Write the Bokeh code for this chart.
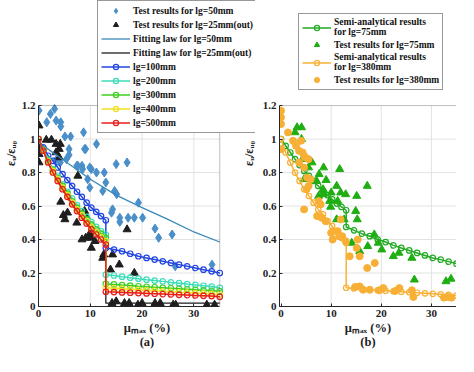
from bokeh.plotting import figure
from bokeh.models import (Legend, LegendItem, FixedTicker, CustomJSTickFormatter,
                          Range1d, BoxAnnotation)
from bokeh.layouts import row
from bokeh.embed import file_html
from bokeh.resources import INLINE

FONT = "Liberation Serif"

# ---------------- data: panel (a) ----------------
diamond_x = [0.1, 1.6, 2.3, 3.1, 3.4, 4.3, 4.3, 5.1, 6.2, 8.7, 11.2, 5.9, 5.9, 9.1, 3.3, 4.2,
             5.4, 7.4, 8.5, 10.2, 9.5, 11.2, 12.7, 9.9, 12.4, 13.0, 15.0, 17.1, 14.7, 15.1,
             14.3, 14.1, 15.7, 15.7, 17.3, 18.5, 19.3, 20.1, 22.5, 23.2, 25.8, 26.4, 33.5,
             8.9, 7.6, 8.4, 9.9]
diamond_y = [1.17, 1.10, 1.15, 1.18, 1.11, 1.10, 1.075, 1.015, 1.015, 1.04, 0.97, 0.94, 0.905,
             0.94, 0.87, 0.86, 0.88, 0.84, 0.82, 0.82, 0.76, 0.80, 0.80, 0.71, 0.69, 0.74, 0.85,
             0.86, 0.69, 0.67, 0.58, 0.56, 0.53, 0.505, 0.53, 0.53, 0.62, 0.53, 0.465, 0.41,
             0.43, 0.24, 0.25, 0.94, 0.84, 0.84, 0.83]

tri_x = [0.1, 0.1, 0.1, 0.1, 1.5, 2.5, 3.4, 4.2, 4.0, 4.0, 3.4, 4.3, 4.8, 5.1, 5.6, 7.6, 7.4,
         8.9, 9.2, 9.9, 10.1, 9.1, 10.2, 12.6, 13.9, 17.1, 18.5, 8.4, 9.8, 10.9, 12.4, 15.6,
         14.3, 14.2, 15.0, 16.6, 17.5, 19.2, 20.0, 22.5, 23.5, 26.0, 26.5, 32.5, 34.0]
tri_y = [1.08, 0.95, 0.91, 0.86, 0.995, 0.995, 0.97, 0.97, 0.94, 0.89, 0.92, 0.625, 0.545,
         0.52, 0.56, 0.78, 0.50, 0.57, 0.54, 0.435, 0.41, 0.41, 0.35, 0.31, 0.22, 0.46, 0.20,
         0.40, 0.42, 0.39, 0.29, 0.25, 0.31, 0.02, 0.03, 0.02, 0.02, 0.01, 0.02, 0.02, 0.02,
         0.01, 0.01, 0.01, 0.01]

fit50_x = [0, 5, 10, 15, 20, 25, 30, 35]
fit50_y = [0.98, 0.87, 0.76, 0.665, 0.59, 0.52, 0.445, 0.385]

fit25_x = [0, 1.86, 3.71, 5.57, 7.43, 9.29, 11.14, 13.0, 13.0, 35.0]
fit25_y = [1.0, 0.855, 0.745, 0.65, 0.565, 0.49, 0.425, 0.365, 0.02, 0.02]

model_x = [0, 0.93, 1.86, 2.79, 3.71, 4.64, 5.57, 6.5, 7.43, 8.36, 9.29, 10.21, 11.14, 12.07, 13.0,
           13.0, 14.57, 16.14, 17.71, 19.29, 20.86, 22.43, 24.0, 25.57, 27.14, 28.71, 30.29,
           31.86, 33.43, 35.0]
lg100 = [1.0, 0.95, 0.90, 0.87, 0.83, 0.79, 0.755, 0.72, 0.685, 0.655, 0.62, 0.59, 0.565, 0.54, 0.515,
         0.35, 0.34, 0.33, 0.315, 0.30, 0.29, 0.28, 0.27, 0.26, 0.25, 0.24, 0.23, 0.22, 0.21, 0.20]
lg200 = [1.0, 0.935, 0.875, 0.82, 0.775, 0.73, 0.685, 0.645, 0.605, 0.57, 0.535, 0.505, 0.475, 0.45, 0.43,
         0.19, 0.185, 0.178, 0.172, 0.166, 0.16, 0.155, 0.15, 0.144, 0.139, 0.134, 0.129, 0.124, 0.119, 0.112]
lg300 = [1.0, 0.935, 0.87, 0.815, 0.765, 0.72, 0.675, 0.63, 0.59, 0.555, 0.52, 0.49, 0.46, 0.435, 0.41,
         0.135, 0.132, 0.128, 0.125, 0.121, 0.118, 0.115, 0.112, 0.109, 0.106, 0.103, 0.100, 0.097, 0.094, 0.091]
lg400 = [1.0, 0.93, 0.865, 0.81, 0.76, 0.71, 0.665, 0.62, 0.58, 0.545, 0.51, 0.475, 0.445, 0.415, 0.39,
         0.112, 0.109, 0.106, 0.103, 0.100, 0.097, 0.094, 0.091, 0.088, 0.085, 0.083, 0.080, 0.078, 0.075, 0.073]
lg500 = [1.0, 0.93, 0.86, 0.80, 0.75, 0.70, 0.655, 0.61, 0.57, 0.53, 0.495, 0.46, 0.43, 0.40, 0.37,
         0.088, 0.086, 0.084, 0.082, 0.080, 0.078, 0.076, 0.074, 0.072, 0.070, 0.068, 0.066, 0.064, 0.062, 0.058]

# ---------------- data: panel (b) ----------------
semi_x = model_x
semi75 = [1.0, 0.96, 0.92, 0.88, 0.845, 0.81, 0.78, 0.75, 0.72, 0.69, 0.665, 0.64, 0.615, 0.595, 0.575,
          0.475, 0.455, 0.435, 0.42, 0.40, 0.385, 0.365, 0.35, 0.335, 0.32, 0.305, 0.29, 0.28, 0.268, 0.256]
semi380 = [1.0, 0.92, 0.86, 0.80, 0.75, 0.70, 0.66, 0.62, 0.58, 0.55, 0.51, 0.48, 0.45, 0.41, 0.38,
           0.112, 0.108, 0.104, 0.10, 0.097, 0.094, 0.091, 0.088, 0.085, 0.082, 0.079, 0.076, 0.073, 0.069, 0.065]

g_x = [2.8, 3.2, 4.1, 4.1, 4.3, 4.6, 5.5, 6.2, 7.1, 7.6, 8.5, 8.4, 8.4, 7.5, 10.0, 9.7, 9.9, 11.1,
       11.7, 11.9, 12.9, 11.3, 11.1, 12.6, 15.1, 14.9, 15.2, 14.1, 15.7, 17.2, 17.3, 18.6, 19.4,
       20.1, 22.4, 23.5, 26.1, 26.6, 32.9, 33.9, 9.0]
g_y = [1.04, 1.07, 1.07, 1.0, 0.88, 0.76, 0.83, 0.86, 0.75, 0.79, 0.83, 0.70, 0.67, 0.66, 0.68,
       0.63, 0.595, 0.72, 0.82, 0.68, 0.67, 0.63, 0.52, 0.52, 0.66, 0.57, 0.52, 0.38, 0.33, 0.72,
       0.36, 0.43, 0.38, 0.34, 0.30, 0.32, 0.29, 0.16, 0.15, 0.165, 0.755]

o_x = [0.0, 0.0, 0.0, 0.0, 1.4, 2.4, 4.0, 3.0, 3.6, 4.6, 5.5, 3.6, 4.6, 4.3, 4.8, 5.2, 5.9, 5.5,
       5.1, 4.6, 7.5, 7.2, 8.1, 7.9, 8.9, 10.0, 10.4, 10.3, 11.3, 11.6, 11.9, 12.2, 12.9, 13.7,
       15.1, 15.3, 15.7, 17.2, 18.7, 14.8, 15.7, 16.4, 17.7, 19.6, 20.4, 22.8, 23.6, 26.1, 26.4,
       32.5, 33.3, 34.0]
o_y = [1.17, 1.13, 1.09, 0.94, 1.04, 0.99, 0.99, 0.96, 0.93, 0.90, 0.88, 0.86, 0.83, 0.92, 0.89,
       0.77, 0.76, 0.72, 0.70, 0.58, 0.63, 0.54, 0.53, 0.61, 0.51, 0.44, 0.45, 0.40, 0.45, 0.42,
       0.52, 0.42, 0.39, 0.30, 0.35, 0.40, 0.30, 0.23, 0.26, 0.117, 0.12, 0.10, 0.10, 0.097,
       0.11, 0.093, 0.11, 0.097, 0.057, 0.053, 0.057, 0.053]

x_ticks = [0, 10, 20, 30]
y_ticks = [0, 0.2, 0.4, 0.6, 0.8, 1.0, 1.2]
X_MAX = 35
GRID = "#e3e3e3"
AXC = "#262626"


def style(p, panel_tag, x_lo):
    fmt = CustomJSTickFormatter(code="return String(Math.round(tick*10)/10)")
    p.xaxis.ticker = FixedTicker(ticks=x_ticks)
    p.yaxis.ticker = FixedTicker(ticks=y_ticks)
    p.xaxis.formatter = fmt
    p.yaxis.formatter = fmt
    p.xaxis.bounds = (x_lo, X_MAX)
    p.yaxis.bounds = (y_ticks[0], y_ticks[-1])
    p.xaxis.axis_label = "μₘₐₓ (%)\n" + panel_tag
    p.yaxis.axis_label = "εᵤ/εᵤ₀"
    for ax in p.axis:
        ax.major_tick_in = 3
        ax.major_tick_out = 0
        ax.minor_tick_line_color = None
        ax.axis_line_color = AXC
        ax.major_tick_line_color = AXC
        ax.major_label_text_font = FONT
        ax.major_label_text_font_style = "bold"
        ax.major_label_text_font_size = "11px"
        ax.major_label_text_color = "#222222"
        ax.major_label_standoff = 3
        ax.axis_label_text_font = FONT
        ax.axis_label_text_font_style = "bold"
        ax.axis_label_text_font_size = "12px"
        ax.axis_label_text_color = "#222222"
        ax.axis_label_standoff = 1
    p.xaxis.major_label_standoff = 3
    p.xaxis.axis_label_text_font_size = "12.5px"
    p.xaxis.axis_label_text_line_height = 1.05
    p.xgrid.visible = False
    p.ygrid.visible = False
    p.outline_line_color = None
    gx = x_ticks[1:]
    gy = y_ticks[1:-1]
    p.segment(x0=gx, y0=y_ticks[0], x1=gx, y1=y_ticks[-1], line_color=GRID,
              line_width=1, level="underlay")
    p.segment(x0=x_lo, y0=gy, x1=X_MAX, y1=gy, line_color=GRID, line_width=1,
              level="underlay")
    p.add_layout(BoxAnnotation(left=x_lo, right=X_MAX, bottom=y_ticks[0], top=y_ticks[-1],
                               fill_color=None, line_color=AXC, line_width=1))


# ---------------- panel (a) ----------------
pa = figure(width=255, height=354, x_range=Range1d(0, 41.9), y_range=Range1d(0, 1.827),
            output_backend="svg", toolbar_location=None,
            min_border_left=31, min_border_right=0, min_border_top=0, min_border_bottom=48)
style(pa, "(a)", 0)

r_dia = pa.scatter(diamond_x, diamond_y, marker="diamond", size=9, color="#4a8fc9")
r_tri = pa.scatter(tri_x, tri_y, marker="triangle", size=8, color="#1e1e1e")
r_f50 = pa.line(fit50_x, fit50_y, line_color="#3a89b9", line_width=1.3)
r_f25 = pa.line(fit25_x, fit25_y, line_color="#1e1e1e", line_width=1.3)

model_items = []
for vals, col, lab in [(lg100, "#2245e0", "lg=100mm"), (lg200, "#3ddcb8", "lg=200mm"),
                       (lg300, "#3fcf1f", "lg=300mm"), (lg400, "#f0e020", "lg=400mm"),
                       (lg500, "#e81c1c", "lg=500mm")]:
    rl = pa.line(model_x, vals, line_color=col, line_width=1.5)
    rc = pa.scatter(model_x, vals, marker="circle", size=5.5, fill_color=None,
                    line_color=col, line_width=1.2)
    model_items.append(LegendItem(label=lab, renderers=[rl, rc]))

leg_a = Legend(items=[
    LegendItem(label="Test results for lg=50mm", renderers=[r_dia]),
    LegendItem(label="Test results for lg=25mm(out)", renderers=[r_tri]),
    LegendItem(label="Fitting law for lg=50mm", renderers=[r_f50]),
    LegendItem(label="Fitting law for lg=25mm(out)", renderers=[r_f25]),
] + model_items, location=(59, 173))

# ---------------- panel (b) ----------------
pb = figure(width=218, height=354, x_range=Range1d(-0.3, 35), y_range=Range1d(0, 1.828),
            output_backend="svg", toolbar_location=None,
            min_border_left=36, min_border_right=0, min_border_top=0, min_border_bottom=47,
            margin=(0, 0, 0, -17))
style(pb, "(b)", -0.3)
pb.yaxis[0].axis_label_standoff = 4
pb.border_fill_color = None

rg_l = pb.line(semi_x, semi75, line_color="#22aa22", line_width=1.5)
rg_c = pb.scatter(semi_x, semi75, marker="circle", size=5.5, fill_color=None,
                  line_color="#22aa22", line_width=1.2)
rg_t = pb.scatter(g_x, g_y, marker="triangle", size=8, color="#1fae12")
ro_l = pb.line(semi_x, semi380, line_color="#f7b035", line_width=1.5)
ro_c = pb.scatter(semi_x, semi380, marker="circle", size=5.5, fill_color=None,
                  line_color="#f7b035", line_width=1.2)
ro_d = pb.scatter(o_x, o_y, marker="circle", size=7, color="#f7b035")

leg_b = Legend(items=[
    LegendItem(label="Semi-analytical results\nfor lg=75mm", renderers=[rg_l, rg_c]),
    LegendItem(label="Test results for lg=75mm", renderers=[rg_t]),
    LegendItem(label="Semi-analytical results\nfor lg=380mm", renderers=[ro_l, ro_c]),
    LegendItem(label="Test results for lg=380mm", renderers=[ro_d]),
], location=(19, 216))

for leg in (leg_a, leg_b):
    leg.label_text_font = FONT
    leg.label_text_font_style = "bold"
    leg.label_text_font_size = "9.5px"
    leg.label_text_color = "#111111"
    leg.border_line_color = "#333333"
    leg.border_line_width = 1
    leg.background_fill_alpha = 1
    leg.padding = 3
    leg.spacing = 1
    leg.margin = 0
    leg.glyph_width = 29
    leg.glyph_height = 13
    leg.label_height = 13
    leg.label_standoff = 3

pa.add_layout(leg_a)
pb.add_layout(leg_b)

layout = row(pa, pb)
open("out.html", "w").write(file_html(layout, INLINE))
